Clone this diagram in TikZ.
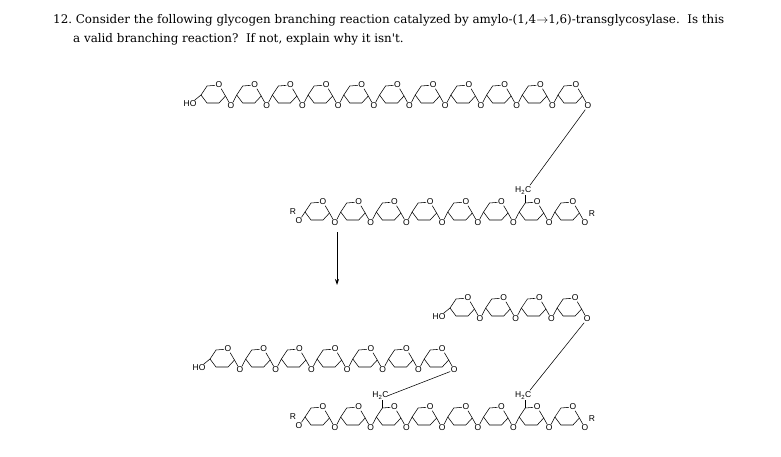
\documentclass[tikz,border=0pt]{standalone}
\usepackage{fontspec}
\usetikzlibrary{calc,arrows.meta}
\newfontfamily\chem{Liberation Sans}
\newfontfamily\hdrfont{DejaVu Serif}
\begin{document}
\begin{tikzpicture}[x=1pt,y=-1pt,
  atom/.style={font=\chem\fontsize{8.5}{9}\selectfont,inner sep=0.5pt},
  bond/.style={line width=0.55pt},
  hdr/.style={font=\hdrfont\fontsize{11.9}{14}\selectfont,anchor=west,inner sep=0}]
\useasboundingbox (0,0) rectangle (781,456);
\newcommand\sug[3]{%
  \coordinate (#3-L) at (#1,#2);
  \coordinate (#3-UL) at (#1+6,#2-9);
  \node[atom] (#3-O) at (#1+18,#2-10) {O};
  \coordinate (#3-R) at (#1+24.5,#2+1);
  \coordinate (#3-LR) at (#1+18,#2+8);
  \coordinate (#3-LL) at (#1+6,#2+8);
  \node[atom] (#3-G) at (#1+30,#2+11) {O};
  \draw[bond] (#3-O)--(#3-UL)--(#3-L)--(#3-LL)--(#3-LR)--(#3-R)--(#3-O);
  \draw[bond] (#3-R)--(#3-G);}
\newcommand\chain[4]{% x0, y, last index, prefix
  \foreach \k in {0,...,#3}{%
    \pgfmathsetmacro\X{#1+35.7*\k}%
    \sug{\X}{#2}{#4\k}%
    \ifnum\k>0 \pgfmathtruncatemacro\p{\k-1}\draw[bond] (#4\p-G)--(#4\k-L);\fi}}
\newcommand\hochain[4]{\chain{#1}{#2}{#3}{#4}%
  \node[atom] (#4-HO) at (#1-11,#2+9) {HO};
  \draw[bond] (#4-HO)--(#40-L);}
\newcommand\rchain[4]{\chain{#1}{#2}{#3}{#4}%
  \node[atom] (#4-O0) at (#1-6,#2+9) {O};
  \node[atom] (#4-R0) at (#1-12,#2) {R};
  \draw[bond] (#4-O0)--(#40-L);
  \node[atom] (#4-R1) at (#1+35.7*#3+37,#2+2) {R};}

\node[hdr] (t1) at (53,20) {12.\ Consider the following glycogen branching reaction catalyzed by amylo-(1,4$\rightarrow$1,6)-transglycosylase.\ \ Is this};
\node[hdr] (t2) at (73,39) {a valid branching reaction?\ \ If not, explain why it isn't.};

\hochain{201}{95}{10}{a}
\rchain{305}{212}{7}{b}
\node[atom,anchor=south] (bh) at ($(b6-UL)+(-2,-8)$) {H\textsubscript{2}C};
\draw[bond] (b6-UL)--($(b6-UL)+(0,-8)$);
\draw[bond] ($(bh.north east)+(-2,-1)$)--(a10-G);

\coordinate (ar1) at (337,232);
\coordinate (ar2) at (337,285);
\draw[line width=0.8pt,-{Stealth[length=6pt,width=4pt]}] (ar1)--(ar2);

\hochain{450}{308}{3}{c}
\hochain{210}{359}{6}{d}
\rchain{305}{417}{7}{e}
\node[atom,anchor=south] (eh1) at ($(e2-UL)+(-2,-8)$) {H\textsubscript{2}C};
\draw[bond] (e2-UL)--($(e2-UL)+(0,-8)$);
\node[atom,anchor=south] (eh2) at ($(e6-UL)+(-2,-8)$) {H\textsubscript{2}C};
\draw[bond] (e6-UL)--($(e6-UL)+(0,-8)$);
\draw[bond] ($(eh1.east)+(-1,0)$)--(d6-G);
\draw[bond] ($(eh2.north east)+(-2,-1)$)--(c3-G);
\end{tikzpicture}
\end{document}
